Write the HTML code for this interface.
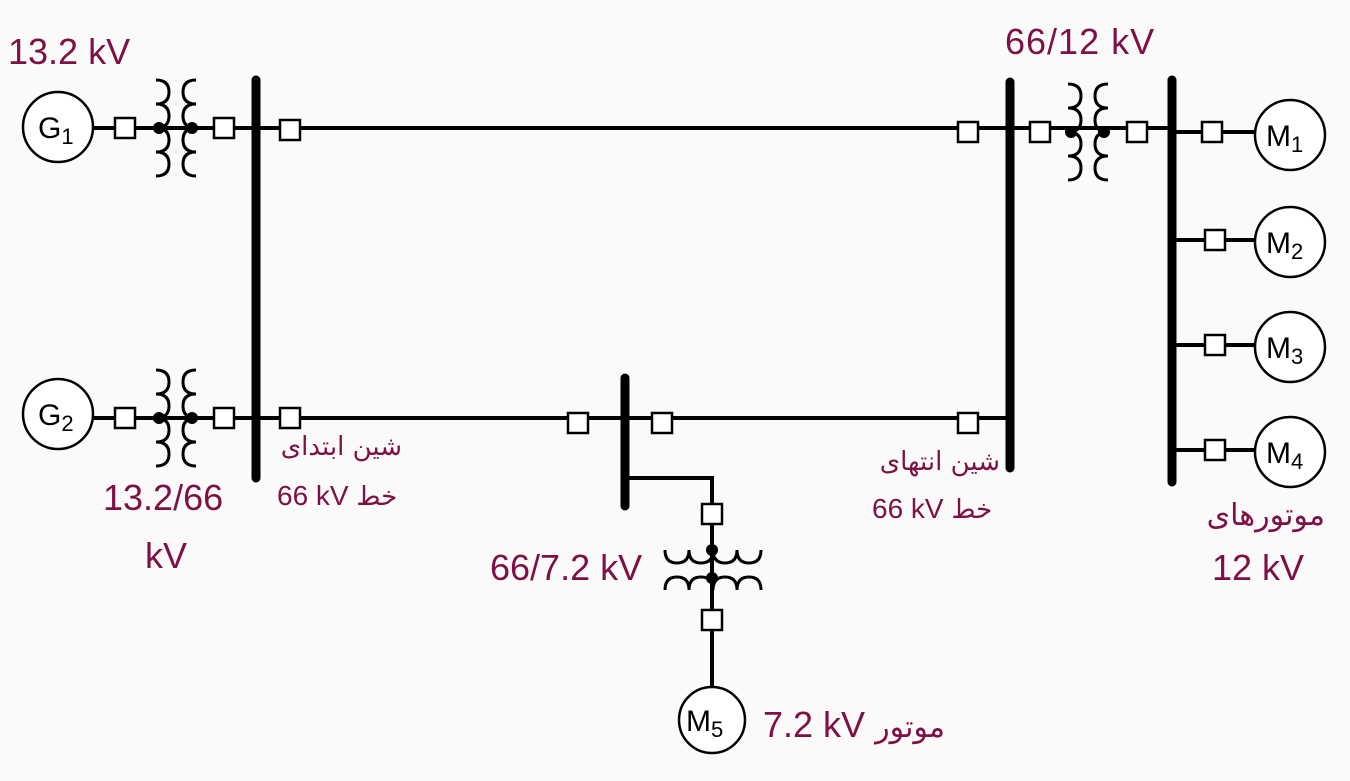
<!DOCTYPE html>
<html><head><meta charset="utf-8"><style>
html,body{margin:0;padding:0;background:#fafafa;}
svg{display:block}
text{font-family:"Liberation Sans","DejaVu Sans",sans-serif;fill:#7d1045;}
.s{stroke:#000;stroke-width:4;fill:none}
.b{fill:#fff;stroke:#000;stroke-width:2.5}
.fa{font-family:"DejaVu Sans",sans-serif;}
</style></head><body>
<svg width="1350" height="781" viewBox="0 0 1350 781">
<defs>
<g id="vc">
<path style="stroke:#000;stroke-width:3;fill:none" d="M-19,-48 q13,0 13,12 q0,12 -13,12 M-19,-24 q13,0 13,12 q0,12 -13,12 M-19,0 q13,0 13,12 q0,12 -13,12 M-19,24 q13,0 13,12 q0,12 -13,12"/>
<path style="stroke:#000;stroke-width:3;fill:none" d="M21,-48 q-13,0 -13,12 q0,12 13,12 M21,-24 q-13,0 -13,12 q0,12 13,12 M21,0 q-13,0 -13,12 q0,12 13,12 M21,24 q-13,0 -13,12 q0,12 13,12"/>
<circle cx="-16" cy="0" r="6"/><circle cx="17" cy="0" r="6"/>
</g>
<rect id="br" x="-10" y="-10" width="20" height="20" class="b"/>
</defs>
<path class="s" d="M93,128 H1172 M93,418 H1010 M625,478 H712 V700 M1172,240 H1255 M1172,345 H1255 M1172,450 H1255 M1172,132 H1255"/>
<path style="stroke:#000;stroke-width:9;fill:none;stroke-linecap:round" d="M256,80 V478 M1010,82 V468 M625,378 V506 M1172,80 V482"/>
<circle cx="58" cy="127" r="35" class="b"/><text x="38" y="138" font-size="30" style="fill:#000">G<tspan font-size="22" dy="6">1</tspan></text>
<circle cx="58" cy="414" r="35" class="b"/><text x="38" y="425" font-size="30" style="fill:#000">G<tspan font-size="22" dy="6">2</tspan></text>
<g transform="translate(175,128)"><use href="#vc"/></g>
<g transform="translate(175,418)"><use href="#vc"/></g>
<g transform="translate(1087,132)"><use href="#vc"/></g>
<path style="stroke:#000;stroke-width:3;fill:none" d="M665,550 q0,13 12,13 q12,0 12,-13 M689,550 q0,13 12,13 q12,0 12,-13 M713,550 q0,13 12,13 q12,0 12,-13 M737,550 q0,13 12,13 q12,0 12,-13"/>
<path style="stroke:#000;stroke-width:3;fill:none" d="M665,590 q0,-13 12,-13 q12,0 12,13 M689,590 q0,-13 12,-13 q12,0 12,13 M713,590 q0,-13 12,-13 q12,0 12,13 M737,590 q0,-13 12,-13 q12,0 12,13"/>
<circle cx="712" cy="550" r="6"/><circle cx="712" cy="578" r="6"/>
<use href="#br" x="125" y="128"/><use href="#br" x="224" y="128"/><use href="#br" x="290" y="130"/>
<use href="#br" x="968" y="132"/><use href="#br" x="1040" y="132"/><use href="#br" x="1137" y="132"/>
<use href="#br" x="1212" y="132"/><use href="#br" x="1215" y="240"/><use href="#br" x="1215" y="345"/><use href="#br" x="1215" y="450"/>
<use href="#br" x="125" y="418"/><use href="#br" x="224" y="418"/><use href="#br" x="290" y="418"/>
<use href="#br" x="578" y="423"/><use href="#br" x="662" y="423"/><use href="#br" x="968" y="423"/>
<use href="#br" x="712" y="514"/><use href="#br" x="712" y="620"/>
<circle cx="1290" cy="135" r="35" class="b"/><text x="1266" y="146" font-size="30" style="fill:#000">M<tspan font-size="22" dy="6">1</tspan></text>
<circle cx="1290" cy="242" r="35" class="b"/><text x="1266" y="253" font-size="30" style="fill:#000">M<tspan font-size="22" dy="6">2</tspan></text>
<circle cx="1290" cy="347" r="35" class="b"/><text x="1266" y="358" font-size="30" style="fill:#000">M<tspan font-size="22" dy="6">3</tspan></text>
<circle cx="1290" cy="452" r="35" class="b"/><text x="1266" y="463" font-size="30" style="fill:#000">M<tspan font-size="22" dy="6">4</tspan></text>
<circle cx="712" cy="720" r="33" class="b"/><text x="686" y="731" font-size="30" style="fill:#000">M<tspan font-size="22" dy="6">5</tspan></text>
<text x="8" y="64" font-size="36">13.2 kV</text>
<text x="1005" y="54" font-size="36" letter-spacing="1">66/12 kV</text>
<text x="103" y="510" font-size="36">13.2/66</text>
<text x="145" y="568" font-size="36">kV</text>
<text x="490" y="580" font-size="36">66/7.2 kV</text>
<text x="763" y="737" font-size="36">7.2 kV</text>
<text x="945" y="737" font-size="30" text-anchor="end" class="fa">موتور</text>
<text x="402" y="455" font-size="26" text-anchor="end" class="fa">شین ابتدای</text>
<text x="277" y="505" font-size="28">66 kV <tspan class="fa" font-size="26">خط</tspan></text>
<text x="1000" y="470" font-size="26" text-anchor="end" class="fa">شین انتهای</text>
<text x="872" y="518" font-size="28">66 kV <tspan class="fa" font-size="26">خط</tspan></text>
<text x="1325" y="525" font-size="30" text-anchor="end" class="fa">موتورهای</text>
<text x="1212" y="580" font-size="36">12 kV</text>
</svg>
</body></html>
